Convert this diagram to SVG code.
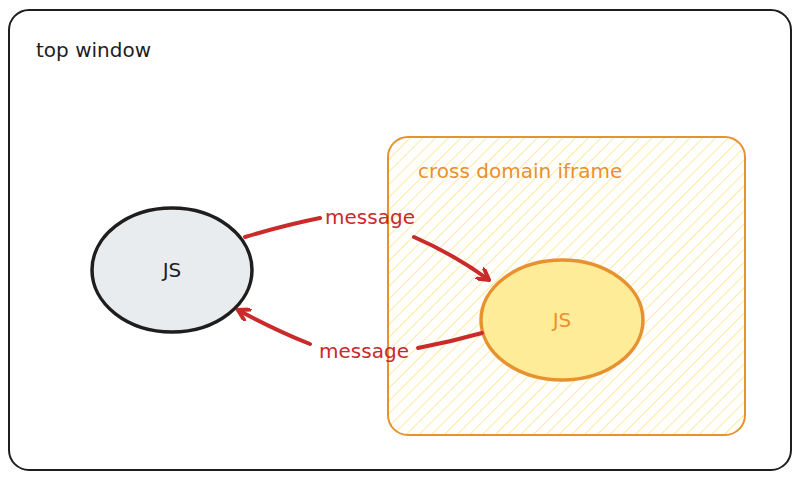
<svg xmlns="http://www.w3.org/2000/svg" width="800" height="479" viewBox="0 0 800 479">
<style>
.t{font-family:"DejaVu Sans","Liberation Sans",sans-serif;font-size:20px}
.lbl{font-family:"DejaVu Sans","Liberation Sans",sans-serif;font-size:20px;fill:#c92a2a;text-anchor:middle}
.ar{fill:none;stroke:#c92a2a;stroke-width:4;stroke-linecap:round}
</style>
<defs>
<pattern id="h" width="9" height="9" patternUnits="userSpaceOnUse" patternTransform="rotate(45)">
<line x1="0" y1="0" x2="0" y2="9" stroke="#ffe07a" stroke-width="1.4"/>
</pattern>
<marker id="m" markerWidth="14" markerHeight="14" refX="12" refY="7" orient="auto" markerUnits="userSpaceOnUse">
<path d="M0,0 L12,7 L0,14" fill="none" stroke="#c92a2a" stroke-width="4" stroke-linecap="round"/>
</marker>
</defs>
<rect width="800" height="479" fill="#fff"/>
<g id="top"><rect x="9" y="10" width="782" height="460" rx="20" fill="none" stroke="#1e1e1e" stroke-width="2"/>
<text x="36" y="57" class="t" fill="#1e1e1e">top window</text></g>
<g id="iframe"><rect x="388" y="137" width="357" height="298" rx="20" fill="url(#h)" stroke="#e8912f" stroke-width="2"/>
<text x="418" y="178" class="t" fill="#e8912f">cross domain iframe</text></g>
<g id="js1"><ellipse cx="172" cy="270" rx="80" ry="62" fill="#e9ecef" stroke="#1e1e1e" stroke-width="3.5"/>
<text x="172" y="277" class="t" text-anchor="middle" fill="#1e1e1e">JS</text></g>
<g id="js2"><ellipse cx="562" cy="320" rx="81" ry="60" fill="#ffec99" stroke="#e8912f" stroke-width="3.5"/>
<text x="562" y="327" class="t" text-anchor="middle" fill="#e8912f">JS</text></g>
<g id="connectors">
<path class="ar" d="M245,237 Q285,225 320,218"/>
<path class="ar" d="M414,237 Q455,255 489,280" marker-end="url(#m)"/>
<text x="370" y="224" class="lbl">message</text>
<path class="ar" d="M482,333 Q450,342 418,348"/>
<path class="ar" d="M310,344 Q275,330 238,310" marker-end="url(#m)"/>
<text x="364" y="358" class="lbl">message</text>
</g>
</svg>
